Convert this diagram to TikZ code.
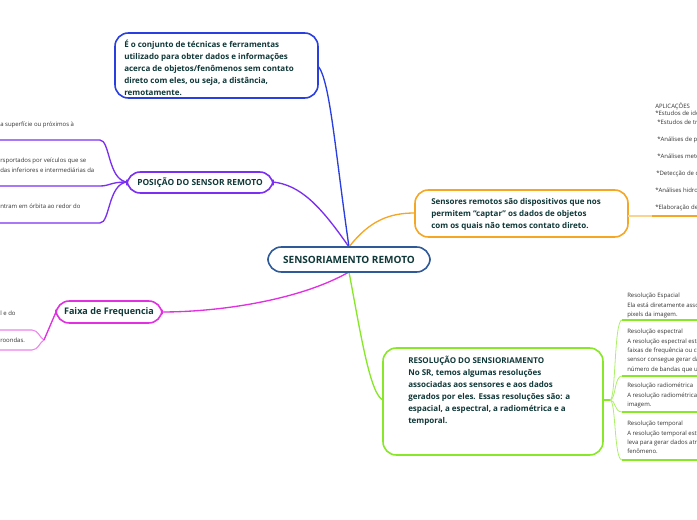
\documentclass[tikz,border=0pt]{standalone}
\usepackage{fontspec}
\setmainfont{Open Sans}
\definecolor{cblue}{HTML}{2A3FE0}
\definecolor{cpurp}{HTML}{7B2FF0}
\definecolor{cmag}{HTML}{E030E0}
\definecolor{corg}{HTML}{F5A623}
\definecolor{cgrn}{HTML}{88E828}
\definecolor{ctxt}{HTML}{103838}
\definecolor{cnav}{HTML}{2F5A9A}
\begin{document}
\begin{tikzpicture}[x=0.75pt,y=-0.75pt,
  box/.style={rounded corners=10pt,line width=1.2pt,fill=white,text=ctxt,font=\bfseries\fontsize{7}{9}\selectfont,inner sep=0pt},
  leaf/.style={font=\fontsize{4.5}{7}\selectfont,text=black!80,anchor=north west,inner sep=0pt,align=left},
  para/.style={anchor=north west,text=ctxt,font=\bfseries\fontsize{6}{9}\selectfont,align=left,inner sep=0pt},
  con/.style={line width=1pt}]
\useasboundingbox (0,0) rectangle (697,520);
% connectors
\coordinate (c1) at (349,247);
\coordinate (c2) at (349,272);
\draw[con,cblue] (c1) .. controls (335,150) and (330,80) .. (318,66);
\draw[con,cpurp] (c1) .. controls (320,205) and (300,185) .. (273,182);
\draw[con,cmag] (c2) .. controls (300,300) and (220,312) .. (162,312);
\draw[con,corg] (c1) .. controls (370,220) and (390,213) .. (415,213);
\draw[con,cgrn] (c2) .. controls (360,330) and (370,395) .. (383,400);
% center
\draw[cnav,line width=1.2pt,fill=white,rounded corners=10pt] (268,247) rectangle (430,272);
\node[text=ctxt,font=\bfseries\fontsize{7.5}{9}\selectfont] (center) at (349,260) {SENSORIAMENTO REMOTO};
% top blue
\draw[box,draw=cblue] (115,33) rectangle (318,98);
\node[para] (top) at (124,40) {É o conjunto de técnicas e ferramentas\\utilizado para obter dados e informações\\acerca de objetos/fenômenos sem contato\\direto com eles, ou seja, a distância,\\remotamente.};
% posicao
\draw[box,draw=cpurp] (127,172) rectangle (273,193);
\node[text=ctxt,font=\bfseries\fontsize{6.3}{8}\selectfont] (pos) at (200,182.5) {POSIÇÃO DO SENSOR REMOTO};
\draw[cpurp,line width=1pt] (0,140) -- (100,140) .. controls (110,140) and (108,180) .. (127,182);
\draw[cpurp,line width=1pt] (0,186) -- (100,186) .. controls (110,186) and (110,182) .. (127,182);
\draw[cpurp,line width=1pt] (0,223) -- (100,223) .. controls (110,223) and (108,184) .. (127,182);
\node[leaf] at (0,122) {a superfície ou próximos à};
\node[leaf] at (0,158) {rsportados por veículos que se\\das inferiores e intermediárias da};
\node[leaf] at (0,204) {ntram em órbita ao redor do};
% faixa
\draw[box,draw=cmag] (56,301) rectangle (162,323);
\node[text=ctxt,font=\bfseries\fontsize{6.8}{8}\selectfont] (faixa) at (109,312) {Faixa de Frequencia};
\draw[cmag!60,line width=0.8pt] (0,330) -- (32,330) .. controls (38,330) and (40,338) .. (44,340) .. controls (40,342) and (38,350) .. (32,350) -- (0,350);
\draw[cmag,line width=1pt] (44,340) -- (56,312);
\node[leaf] at (0,311) {l e do};
\node[leaf] at (0,338) {roondas.};
% sensores
\draw[box,draw=corg] (415,190) rectangle (628,237);
\node[para] (sens) at (431,198) {Sensores remotos são dispositivos que nos\\permitem ``captar'' os dados de objetos\\com os quais não temos contato direto.};
\draw[corg!50,line width=1pt] (628,216) -- (652,216);
\draw[corg,line width=1pt] (652,216) -- (697,216);
\node[leaf] at (655,103) {APLICAÇÕES};
\node[leaf] at (655,111) {*Estudos de identificação};
\node[leaf] at (657,120) {*Estudos de transformação};
\node[leaf] at (657,137) {*Análises de paisagem};
\node[leaf] at (657,154) {*Análises meteorológicas};
\node[leaf] at (656,171) {*Detecção de queimadas};
\node[leaf] at (655,188) {*Análises hidrológicas};
\node[leaf] at (655,205) {*Elaboração de mapas};
% resolucao
\draw[box,draw=cgrn] (383,348) rectangle (603,455);
\node[para] (res) at (408,356) {RESOLUÇÃO DO SENSIORIAMENTO\\No SR, temos algumas resoluções\\associadas aos sensores e aos dados\\gerados por eles. Essas resoluções são: a\\espacial, a espectral, a radiométrica e a\\temporal.};
\draw[cgrn,line width=1pt] (603,400) -- (610,400);
\foreach \y in {320,376,412,460}{
  \draw[cgrn!70,line width=0.6pt] (610,400) .. controls (616,400) and (614,\y) .. (622,\y);
  \draw[cgrn,line width=1.2pt] (622,\y) -- (697,\y);}
\node[leaf] at (627,293) {Resolução Espacial\\Ela está diretamente associada ao tamanho dos\\pixels da imagem.};
\node[leaf] at (627,329) {Resolução espectral\\A resolução espectral está relacionada às\\faixas de frequência ou comprimento que o\\sensor consegue gerar dados, ou seja, o\\número de bandas que um sensor possui.};
\node[leaf] at (627,383) {Resolução radiométrica\\A resolução radiométrica está relacionada à\\imagem.};
\node[leaf] at (627,421) {Resolução temporal\\A resolução temporal está relacionada ao tempo que se\\leva para gerar dados através de um mesmo\\fenômeno.};
\end{tikzpicture}
\end{document}
